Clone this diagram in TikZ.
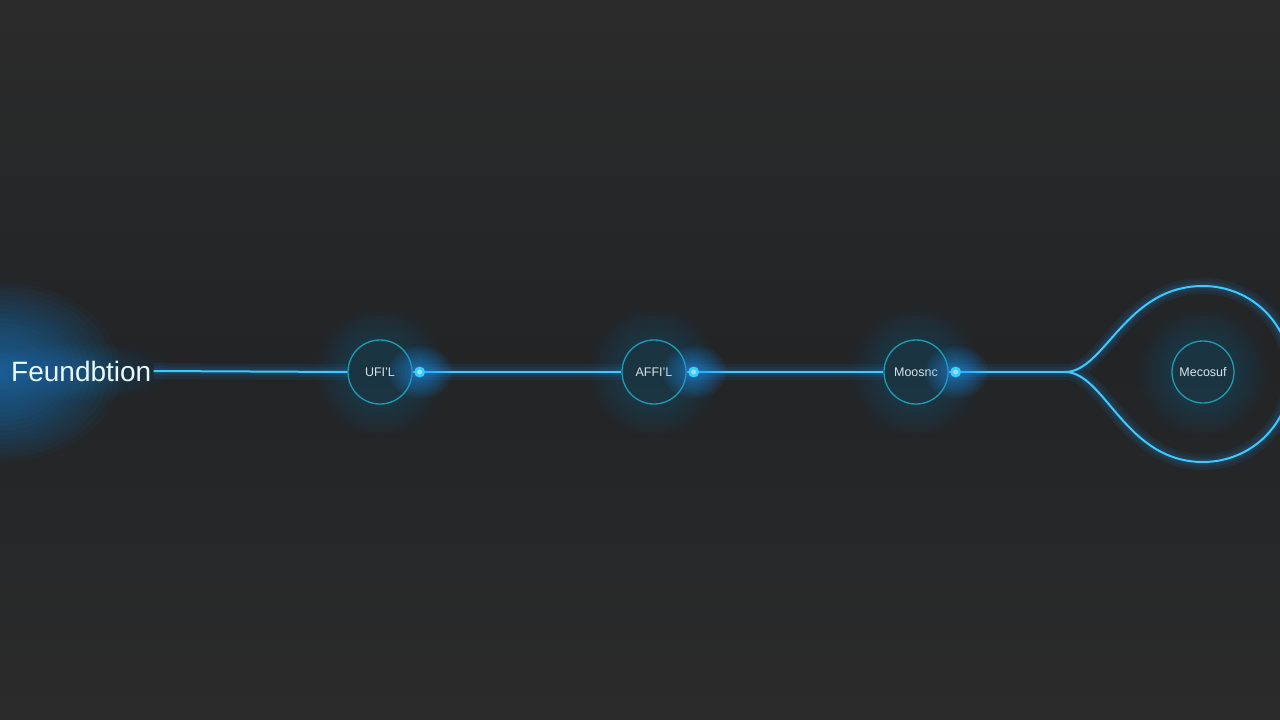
\documentclass[tikz,border=0pt]{standalone}
\usepackage{fontspec}
\setmainfont{Liberation Sans}
\definecolor{bgA}{HTML}{2B2B2B}
\definecolor{bgB}{HTML}{222426}
\definecolor{glowc}{HTML}{1A9BFF}
\definecolor{linec}{HTML}{3CCBFF}
\definecolor{ringc}{HTML}{1E9EB4}
\definecolor{txtc}{HTML}{D6E4EA}
\definecolor{headc}{HTML}{E6FAFF}
\tikzset{
  ring/.style={circle, draw=ringc, line width=1.3pt, minimum size=64pt, inner sep=0pt,
    text=txtc, font=\fontsize{12.5}{13}\selectfont},
  wire/.style={draw=linec, line width=2pt},
  halo/.style={draw=glowc, line width=#1, opacity=0.08},
}
\begin{document}
\begin{tikzpicture}[x=1pt,y=-1pt]
\useasboundingbox (0,0) rectangle (1280,720);
\fill[top color=bgA, bottom color=bgA, middle color=bgB] (0,0) rectangle (1280,720);
% left glow
\foreach \i in {1,...,20}{
  \fill[glowc, opacity=0.035] (0,372) ellipse [x radius={6*\i}, y radius={4.5*\i}];
}
\foreach \i in {1,...,12}{
  \fill[glowc, opacity=0.025] (75,372) ellipse [x radius={8*\i}, y radius={2.4*\i}];
}
% halos around rings
\foreach \x in {380,654,916,1203}{
  \foreach \r in {36,40,...,64}{
    \fill[glowc, opacity=0.02] (\x,372) circle (\r);
  }
}
\node[font=\fontsize{28}{30}\selectfont, text=headc, anchor=west, inner sep=0pt] (lab) at (11,371) {Feundbtion};
\node[ring] (c1) at (380,372) {UFI'L};
\node[ring] (c2) at (654,372) {AFFI'L};
\node[ring] (c3) at (916,372) {Moosnc};
\node[ring, minimum size=62pt] (c4) at (1203,372) {Mecosuf};
\coordinate (split) at (1065,372);
\coordinate (top) at (1203,286);
\coordinate (bot) at (1203,462);
% glow of wires
\foreach \w in {16pt,10pt,6pt}{
  \draw[halo=\w] ([xshift=2pt]lab.east) -- (c1.west);
  \draw[halo=\w] (c1.east) -- (c2.west);
  \draw[halo=\w] (c2.east) -- (c3.west);
  \draw[halo=\w] (c3.east) -- (split);
  \draw[halo=\w] (split) .. controls (1105,372) and (1125,286) .. (top)
    .. controls (1252,286) and (1291,325) .. (1291,374)
    .. controls (1291,423) and (1252,462) .. (bot)
    .. controls (1125,462) and (1105,372) .. (split);
}
\draw[wire] ([xshift=2pt]lab.east) -- (c1.west);
\draw[wire] (c1.east) -- (c2.west);
\draw[wire] (c2.east) -- (c3.west);
\draw[wire] (c3.east) -- (split);
\draw[wire] (split) .. controls (1105,372) and (1125,286) .. (top)
    .. controls (1252,286) and (1291,325) .. (1291,374)
    .. controls (1291,423) and (1252,462) .. (bot)
    .. controls (1125,462) and (1105,372) .. (split);
% glowing dots at ring exits
\foreach \n in {c1,c2,c3}{
  \foreach \i in {1,...,10}{
    \fill[glowc, opacity=0.07] ([xshift=8pt]\n.east) ellipse [x radius={3.2*\i}, y radius={2.6*\i}];
  }
  \fill[linec] ([xshift=7pt]\n.east) circle (5.5);
  \fill[white, opacity=0.45] ([xshift=7pt]\n.east) circle (2.5);
}
\end{tikzpicture}
\end{document}
